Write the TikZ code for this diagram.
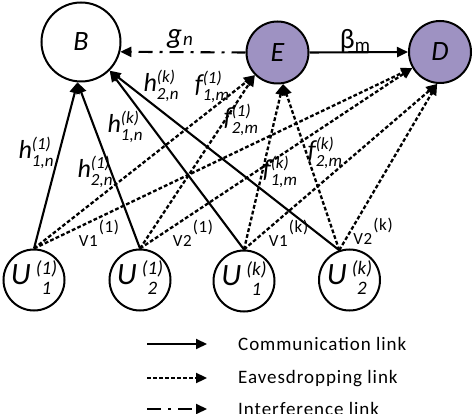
\documentclass[tikz,border=0pt]{standalone}
\usepackage{fontspec}
\setmainfont{Carlito}
\usetikzlibrary{arrows.meta}
\definecolor{nodepurple}{RGB}{158,146,194}
\newcommand\chl[3]{{\fontsize{26}{26}\selectfont\itshape #1}{\fontsize{17}{17}\selectfont\itshape\begin{tabular}[c]{@{}l@{}}#2\\[0pt]#3\end{tabular}}}
\newcommand\ulab[2]{{\fontsize{31}{31}\selectfont\itshape U}\hspace{5pt}{\fontsize{19}{19}\selectfont\itshape\begin{tabular}[c]{@{}c@{}}#1\\[1pt]#2\end{tabular}}}
\newcommand\vlab[2]{{\fontsize{17}{17}\selectfont\addfontfeatures{LetterSpace=4}V#1\hspace{1pt}\raisebox{14pt}{#2}}}
\tikzset{
  station/.style={circle,draw,line width=2pt,fill=white,inner sep=0pt},
  adversary/.style={station,fill=nodepurple},
  commlink/.style={line width=2.1pt,-{Triangle[length=11pt,width=10pt]}},
  eavelink/.style={line width=2.3pt,dash pattern=on 3.8pt off 2.2pt,-{Triangle[length=11pt,width=10pt]}},
  interlink/.style={line width=2.1pt,dash pattern=on 14pt off 7pt on 3pt off 7pt,-{Triangle[length=11pt,width=10pt]}},
  chlabel/.style={inner sep=0pt,anchor=center},
  legtext/.style={anchor=base west,inner sep=0pt,font=\fontsize{19}{19}\selectfont\addfontfeatures{LetterSpace=5}},
}
\begin{document}
\begin{tikzpicture}[x=1pt,y=-1pt]
\useasboundingbox (0,0) rectangle (474,414);
% nodes
\node[station,minimum size=79pt,font=\fontsize{28}{28}\selectfont\itshape] (B) at (81,42) {B};
\node[adversary,minimum size=62pt,font=\fontsize{28}{28}\selectfont\itshape] (E) at (277.5,52.5) {E};
\node[adversary,minimum size=62pt,font=\fontsize{28}{28}\selectfont\itshape] (D) at (440,52) {D};
\node[station,minimum size=61pt] (U11) at (34,280) {\ulab{(1)}{1}};
\node[station,minimum size=61pt] (U21) at (140,280) {\ulab{(1)}{2}};
\node[station,minimum size=61pt] (U1k) at (244,281) {\ulab{(k)}{1}};
\node[station,minimum size=61pt] (U2k) at (349.5,280) {\ulab{(k)}{2}};
% communication links
\draw[commlink] (U11.north) -- (B.265);
\draw[commlink] (U21.north) -- (B.265);
\draw[commlink] (U1k.north) -- (B.-45);
\draw[commlink] (U2k.109) -- (B.-45);
\draw[commlink] (E.east) -- (D.west);
% eavesdropping links
\draw[eavelink] (U11.north) -- (E.-135);
\draw[eavelink] (U21.north) -- (E.-135);
\draw[eavelink] (U1k.north) -- (E.-80);
\draw[eavelink] (U2k.109) -- (E.-80);
\draw[eavelink] (U11.north) -- (D.-150);
\draw[eavelink] (U21.north) -- (D.-150);
\draw[eavelink] (U1k.north) -- (D.-95);
\draw[eavelink] (U2k.109) -- (D.-95);
% interference link
\draw[interlink] (E.west) -- (B.-14);
% labels
\node[chlabel] (gn) at (180,39) {{\fontsize{29}{29}\selectfont\itshape g}\hspace{1pt}\raisebox{-2pt}{\fontsize{19}{19}\selectfont\itshape n}};
\node[chlabel] (bm) at (355,41) {{\fontsize{28}{28}\selectfont β}\raisebox{-3pt}{\fontsize{19}{19}\selectfont m}};
\node[chlabel] (h2k) at (161,87) {\chl{h}{(k)}{2,n}};
\node[chlabel] (f11) at (212,88) {\chl{f}{(1)}{1,m}};
\node[chlabel] (h1k) at (125,128) {\chl{h}{(k)}{1,n}};
\node[chlabel] (f21) at (241,121) {\chl{f}{(1)}{2,m}};
\node[chlabel] (h11) at (36,154) {\chl{h}{(1)}{1,n}};
\node[chlabel] (h21) at (95,173) {\chl{h}{(1)}{2,n}};
\node[chlabel] (f1k) at (280,173) {\chl{f}{(k)}{1,m}};
\node[chlabel] (f2k) at (325,154) {\chl{f}{(k)}{2,m}};
\node[chlabel] (v11) at (99,233.5) {\vlab{1}{(1)}};
\node[chlabel] (v21) at (193,233.5) {\vlab{2}{(1)}};
\node[chlabel] (v1k) at (288.5,233.5) {\vlab{1}{(k)}};
\node[chlabel] (v2k) at (373,231) {\vlab{2}{(k)}};
% legend
\coordinate (la1) at (147,344); \coordinate (lb1) at (207,344);
\coordinate (la2) at (147,378); \coordinate (lb2) at (207,378);
\coordinate (la3) at (147,409); \coordinate (lb3) at (207,409);
\draw[commlink] (la1) -- (lb1);
\draw[eavelink] (la2) -- (lb2);
\draw[interlink] (la3) -- (lb3);
\node[legtext] (t1) at (238,350) {Communication link};
\node[legtext] (t2) at (238,383) {Eavesdropping link};
\node[legtext] (t3) at (238,415) {Interference link};
\end{tikzpicture}
\end{document}
